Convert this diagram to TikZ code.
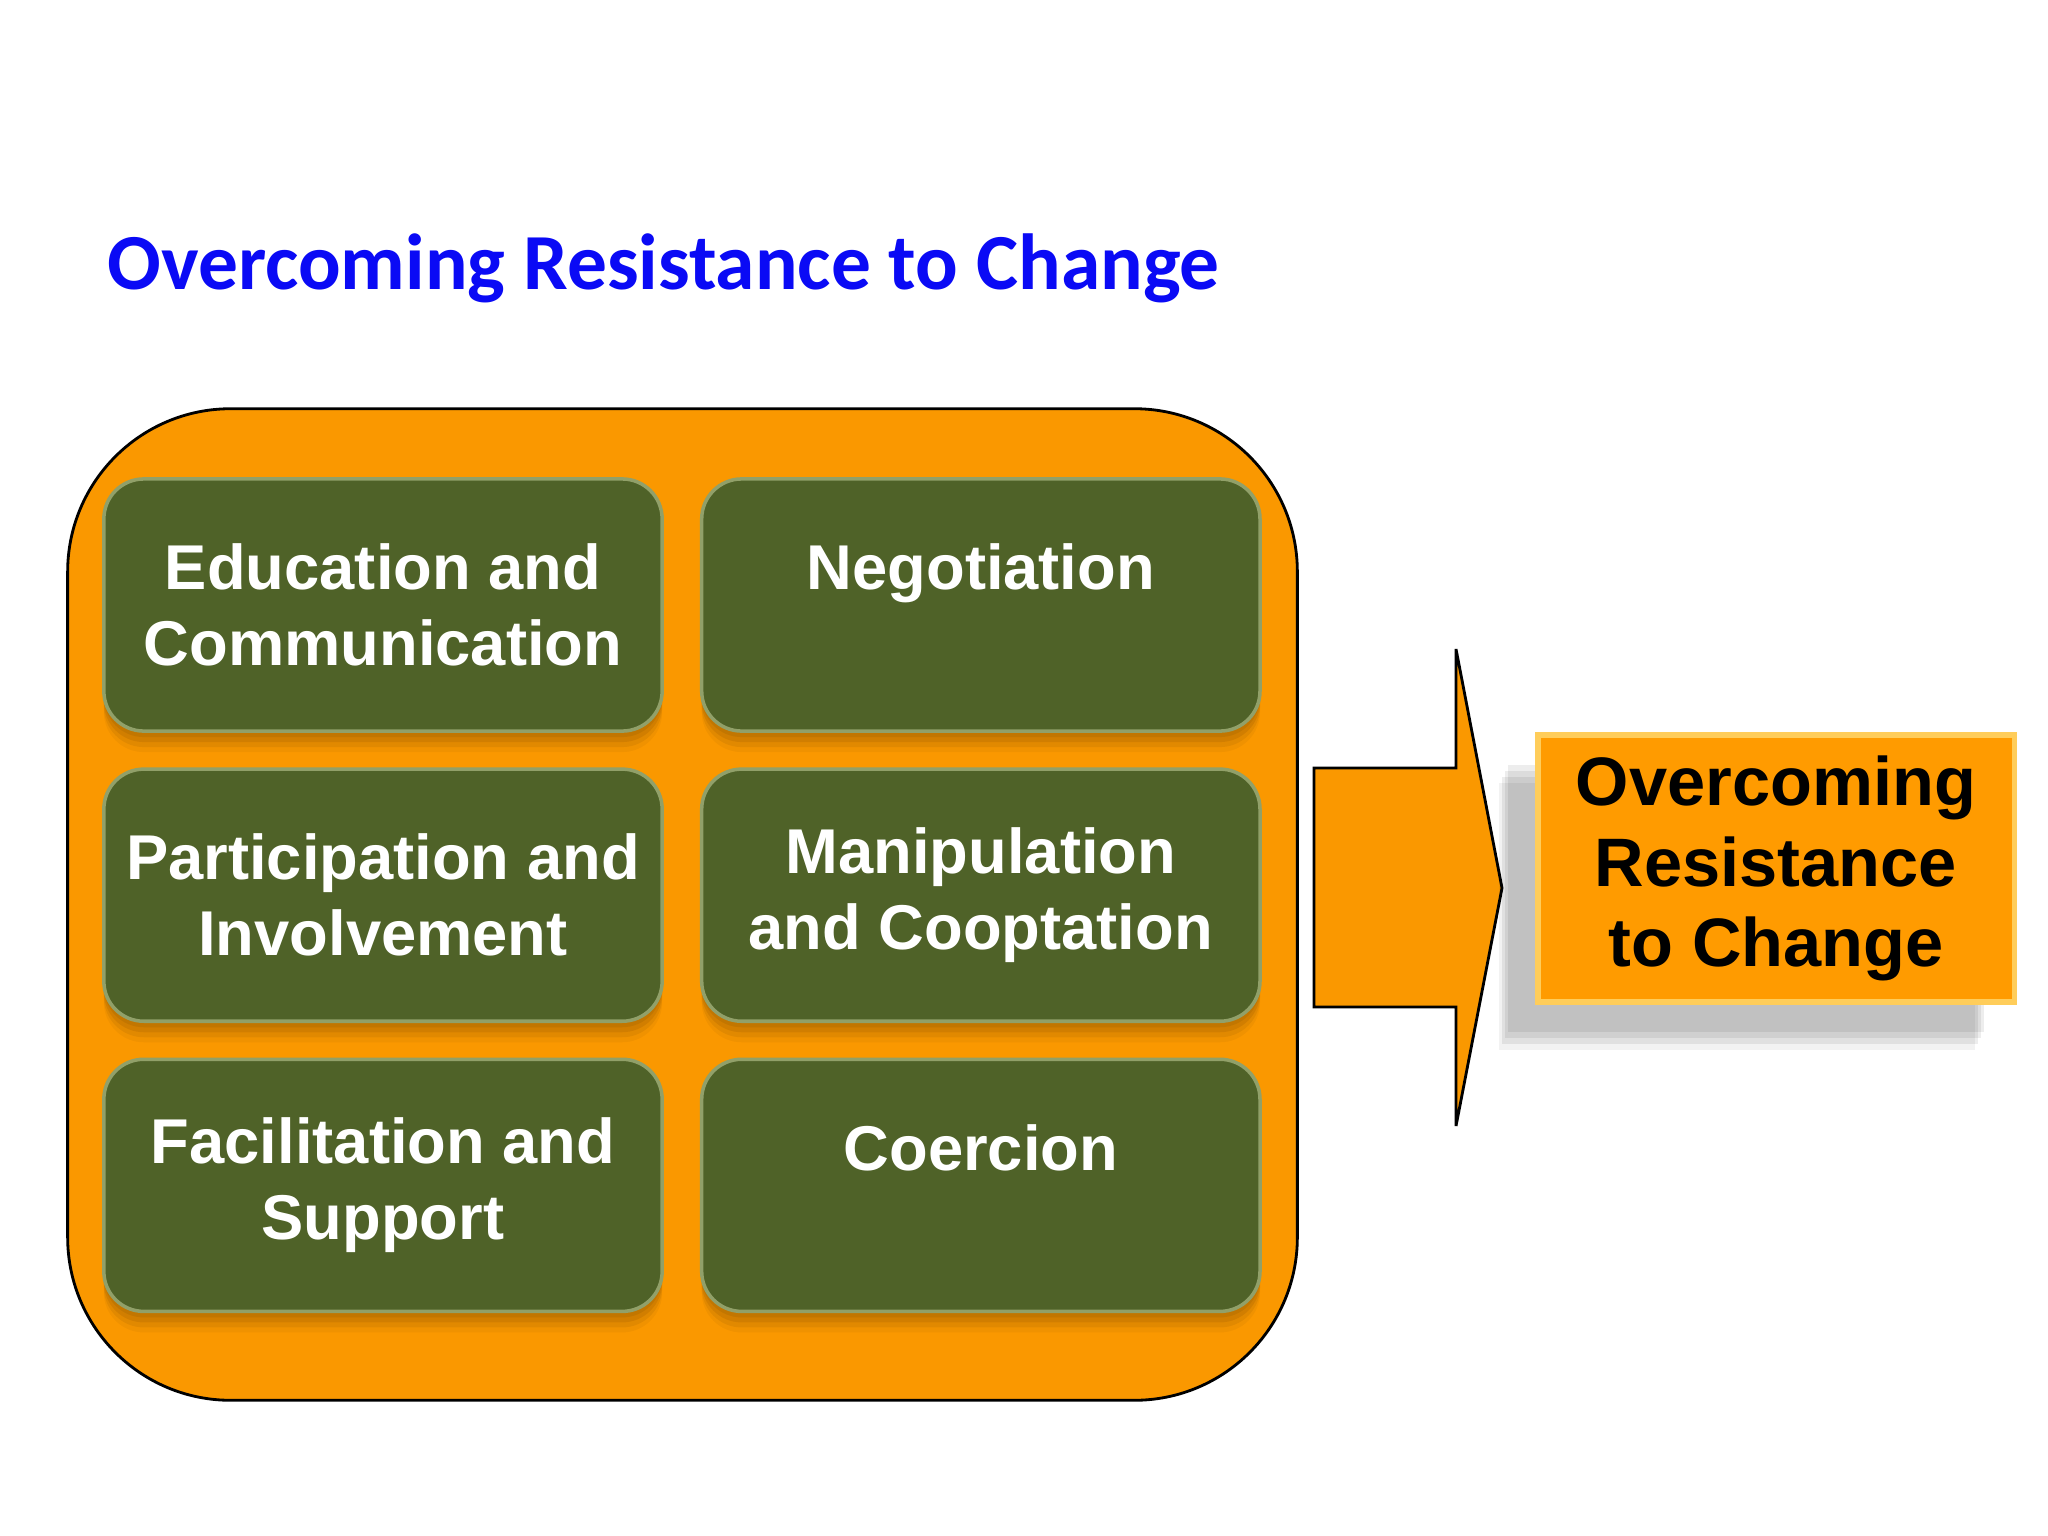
\documentclass[tikz,border=0pt]{standalone}
\usepackage{fontspec}
\setmainfont{Liberation Sans}
\newfontfamily\titlefont{Carlito}
\usetikzlibrary{shapes,arrows,fit,calc,positioning,shadows}
\definecolor{frameorange}{RGB}{250,152,0}
\definecolor{resultorange}{RGB}{255,155,0}
\definecolor{resultedge}{RGB}{255,205,90}
\definecolor{boxgreen}{RGB}{79,98,40}
\definecolor{boxedge}{RGB}{145,160,105}
\definecolor{titleblue}{RGB}{10,10,245}

\begin{document}
\begin{tikzpicture}[x=0.01cm,y=-0.01cm,on grid,
    framebox/.style={draw=black,line width=0.8pt,fill=frameorange,rounded corners=1.63cm,
      minimum width=12.29cm,minimum height=9.91cm},
    stepbox/.style={draw=boxedge,line width=1pt,fill=boxgreen,rounded corners=0.4cm,
      minimum width=5.58cm,minimum height=2.52cm,text=white,align=center,
      font=\bfseries\fontsize{18}{21.6}\selectfont,
      drop shadow={shadow xshift=0cm,shadow yshift=-0.06cm,fill=black,opacity=0.07},
      drop shadow={shadow xshift=0cm,shadow yshift=-0.11cm,fill=black,opacity=0.07},
      drop shadow={shadow xshift=0cm,shadow yshift=-0.16cm,fill=black,opacity=0.06},
      drop shadow={shadow xshift=0cm,shadow yshift=-0.21cm,fill=black,opacity=0.04}},
    resultbox/.style={draw=resultedge,line width=1.5pt,fill=resultorange,
      minimum width=4.76cm,minimum height=2.67cm,align=center,
      font=\bfseries\fontsize{19.5}{23}\selectfont,
      drop shadow={shadow xshift=-0.3cm,shadow yshift=-0.3cm,fill=black,opacity=0.07},
      drop shadow={shadow xshift=-0.33cm,shadow yshift=-0.36cm,fill=black,opacity=0.07},
      drop shadow={shadow xshift=-0.36cm,shadow yshift=-0.42cm,fill=black,opacity=0.07},
      drop shadow={shadow xshift=-0.39cm,shadow yshift=-0.48cm,fill=black,opacity=0.05}},
    arrowfill/.style={draw=black,line width=0.8pt,fill=frameorange}]
  \useasboundingbox[fill=white] (0,0) rectangle (2048,1536);

  \node[anchor=west,inner sep=0pt,text=titleblue,font=\titlefont\bfseries\fontsize{22.6}{27}\selectfont] (title) at (107,268) {Overcoming Resistance to Change};

  \node[framebox] (frame) at (682.5,904.5) {};

  \node[stepbox] (edu) at (383,605) {Education and\\Communication};
  \node[stepbox] (neg) [right=5.975cm of edu] {Negotiation\\~};
  \node[stepbox] (part) [below=2.9cm of edu] {Participation and\\Involvement};
  \node[stepbox] (manip) [right=5.975cm of part] {Manipulation\\and Cooptation};
  \node[stepbox] (facil) [below=2.9cm of part] {Facilitation and\\Support};
  \node[stepbox] (coerc) [right=5.975cm of facil] {Coercion\\~};

  \draw[arrowfill] (1314,768) -- (1456,768) -- (1456,649) -- (1502,888)
    -- (1456,1126) -- (1456,1007) -- (1314,1007) -- cycle;

  \node[resultbox] (result) at (1776,868.5) {Overcoming\\Resistance\\to Change};
\end{tikzpicture}
\end{document}
